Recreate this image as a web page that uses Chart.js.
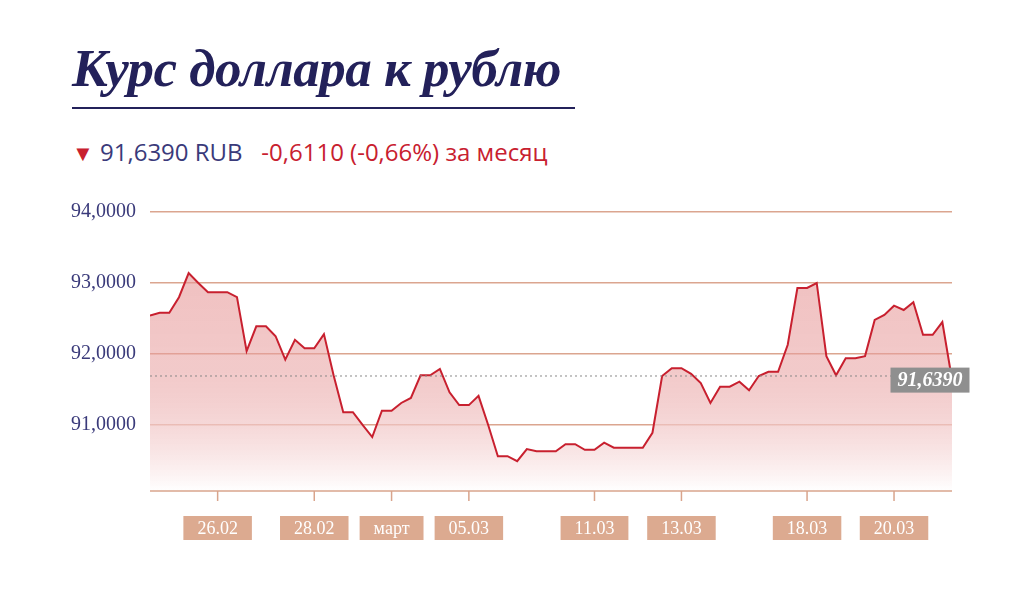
<!DOCTYPE html>
<html><head><meta charset="utf-8">
<script src="https://cdn.jsdelivr.net/npm/chart.js@4/dist/chart.umd.min.js"></script>
<style>
html,body{margin:0;padding:0;background:#fff;width:1024px;height:590px;overflow:hidden;font-family:"Open Sans",sans-serif}
#title{position:absolute;left:72px;top:38px;font:italic bold 53px "Liberation Serif",serif;color:#23215a;letter-spacing:-0.5px}
#rule{position:absolute;left:72px;top:107px;width:503px;height:2px;background:#23215a}
#sub{position:absolute;left:72px;top:135px;font:24px "Open Sans",sans-serif;white-space:nowrap}
#wrap{position:absolute;left:0;top:0;width:1024px;height:590px}
</style></head><body>
<div id="title">Курс доллара к рублю</div>
<div id="rule"></div>
<div id="sub"><span style="color:#c8202f;font-size:22px">&#9660;</span> <span style="color:#3a3a7a">91,6390 RUB</span>&nbsp;&nbsp;&nbsp;<span style="color:#c8202f">-0,6110 (-0,66%) за месяц</span></div>
<div id="wrap"><canvas id="c" width="1024" height="590"></canvas></div>
<script>
const values = [92.54,92.58,92.58,92.80,93.14,93.00,92.87,92.87,92.87,92.80,92.04,92.39,92.39,92.25,91.92,92.20,92.08,92.08,92.28,91.70,91.18,91.18,91.00,90.83,91.20,91.20,91.31,91.38,91.70,91.70,91.79,91.46,91.28,91.28,91.41,91.00,90.56,90.56,90.49,90.66,90.63,90.63,90.63,90.73,90.73,90.65,90.65,90.75,90.68,90.68,90.68,90.68,90.89,91.69,91.80,91.80,91.72,91.59,91.31,91.54,91.54,91.61,91.49,91.69,91.75,91.75,92.13,92.93,92.93,93.00,91.97,91.70,91.94,91.94,91.97,92.48,92.55,92.68,92.62,92.73,92.27,92.27,92.45,91.64];
const tickIdx = [7,17,25,33,46,55,68,77];
const tickLabels = ["26.02","28.02","март","05.03","11.03","13.03","18.03","20.03"];
const yTicks = [91,92,93,94];
const lastValue = 91.639;
const refLine = 91.69;
const categories = values.map((v,i)=>i);

const deco = {
  id:'deco',
  afterDatasetsDraw(chart){
    const {ctx, chartArea:a, scales:{x,y}} = chart;
    ctx.save();
    ctx.strokeStyle='#888'; ctx.lineWidth=1; ctx.setLineDash([2,3]);
    const ry=y.getPixelForValue(refLine);
    ctx.beginPath(); ctx.moveTo(a.left,ry); ctx.lineTo(a.right,ry); ctx.stroke();
    ctx.setLineDash([]);
    ctx.strokeStyle='#d9a48c'; ctx.lineWidth=1.5;
    ctx.beginPath(); ctx.moveTo(a.left,a.bottom); ctx.lineTo(a.right,a.bottom); ctx.stroke();
    ctx.font='18px "Liberation Serif",serif'; ctx.textAlign='center'; ctx.textBaseline='middle';
    tickIdx.forEach((ix,k)=>{
      const px=x.getPixelForValue(ix);
      ctx.strokeStyle='#d9a48c'; ctx.lineWidth=1.5;
      ctx.beginPath(); ctx.moveTo(px,a.bottom); ctx.lineTo(px,a.bottom+10); ctx.stroke();
      const w=ctx.measureText(tickLabels[k]).width+28;
      ctx.fillStyle='#dcaa90'; ctx.fillRect(px-w/2,a.bottom+25,w,24);
      ctx.fillStyle='#fff'; ctx.fillText(tickLabels[k],px,a.bottom+38);
    });
    const ly=y.getPixelForValue(lastValue);
    ctx.font='italic bold 20px "Liberation Serif",serif';
    const t='91,6390', tw=ctx.measureText(t).width+14;
    const cx=a.right-22;
    ctx.fillStyle='#8f8f8f'; ctx.fillRect(cx-tw/2,ly-12,tw,25);
    ctx.fillStyle='#fff'; ctx.fillText(t,cx,ly+1);
    ctx.restore();
  }
};

new Chart(document.getElementById('c'),{
  type:'line',
  data:{labels:categories,datasets:[{
    data:values, borderColor:'#c8202f', borderWidth:2, pointRadius:0, tension:0,
    fill:'start',
    backgroundColor:(c)=>{const a=c.chart.chartArea; if(!a) return 'rgba(230,150,150,0.6)';
      const g=c.chart.ctx.createLinearGradient(0,a.top,0,a.bottom);
      g.addColorStop(0,'rgba(228,140,140,0.6)'); g.addColorStop(0.6,'rgba(232,160,160,0.55)'); g.addColorStop(1,'rgba(255,255,255,0.9)'); return g;}
  }]},
  options:{
    responsive:false, animation:false, events:[],
    layout:{padding:{left:0,right:72,top:212,bottom:99}},
    plugins:{legend:{display:false},tooltip:{enabled:false}},
    scales:{
      x:{type:'linear',min:0,max:values.length-1,offset:false,display:true,
         grid:{display:false},border:{display:false},ticks:{display:false},
         afterFit(s){s.height=0;}},
      y:{min:90.07,max:94,
         afterBuildTicks(s){s.ticks=yTicks.map(v=>({value:v}));},
         afterFit(s){s.width=150;},
         grid:{color:'#dba58f',lineWidth:1.5,drawTicks:false},border:{display:false},
         ticks:{padding:14,color:'#3a3a7a',font:{family:'"Liberation Serif",serif',size:20},
           callback:v=>v.toFixed(4).replace('.',',')}}
    }
  },
  plugins:[deco]
});
</script>
</body></html>
